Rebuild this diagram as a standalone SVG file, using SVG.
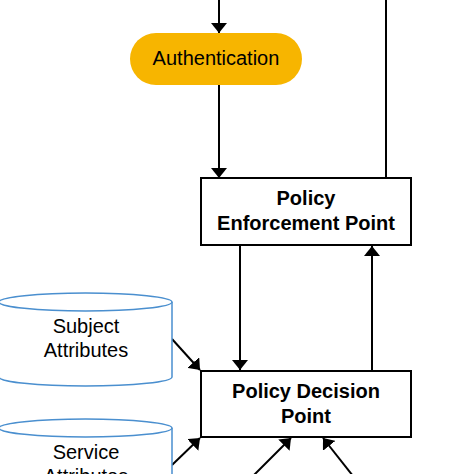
<svg xmlns="http://www.w3.org/2000/svg" width="474" height="474" viewBox="0 0 474 474">
<style>
.t{font-family:"Liberation Sans",Arial,sans-serif;font-size:20px;fill:#000;text-anchor:middle}
.b{font-weight:bold}
.box{fill:#fff;stroke:#000;stroke-width:2}
.cyl{fill:#fff;stroke:#4a8fcf;stroke-width:1.5}
.c{fill:none;stroke:#000;stroke-width:2}
</style>
<defs>
<marker id="ah" markerUnits="userSpaceOnUse" markerWidth="10" markerHeight="16" viewBox="0 0 10 16" refX="10" refY="8" orient="auto">
<path d="M0,0 L10,8 L0,16 z" fill="#000"/>
</marker>
</defs>
<rect width="474" height="474" fill="#fff"/>
<g id="connectors">
<line class="c" x1="219" y1="0" x2="219" y2="33" marker-end="url(#ah)"/>
<line class="c" x1="219" y1="85" x2="219" y2="178" marker-end="url(#ah)"/>
<line class="c" x1="386" y1="0" x2="386" y2="178"/>
<line class="c" x1="240" y1="245" x2="240" y2="370" marker-end="url(#ah)"/>
<line class="c" x1="372" y1="371" x2="372" y2="246" marker-end="url(#ah)"/>
<line class="c" x1="172" y1="339" x2="200" y2="370" marker-end="url(#ah)"/>
<line class="c" x1="172" y1="465" x2="200" y2="438" marker-end="url(#ah)"/>
<line class="c" x1="253" y1="476" x2="291" y2="438" marker-end="url(#ah)"/>
<line class="c" x1="353" y1="476" x2="323" y2="438" marker-end="url(#ah)"/>
</g>
<g id="authentication">
<rect x="130" y="33" width="172" height="52" rx="26" fill="#f7b500"/>
<text class="t" x="216" y="65">Authentication</text>
</g>
<g id="pep">
<rect class="box" x="201" y="178" width="210" height="67"/>
<text class="t b" x="306" y="205">Policy</text>
<text class="t b" x="306" y="230">Enforcement Point</text>
</g>
<g id="pdp">
<rect class="box" x="201" y="371" width="210" height="66"/>
<text class="t b" x="306" y="398">Policy Decision</text>
<text class="t b" x="306" y="423">Point</text>
</g>
<g id="subject-attributes">
<path class="cyl" d="M-1,302 L-1,377 A86.5,9 0 0 0 172,377 L172,302"/>
<ellipse class="cyl" cx="85.5" cy="302" rx="86.5" ry="9"/>
<text class="t" x="86" y="333">Subject</text>
<text class="t" x="86" y="357">Attributes</text>
</g>
<g id="service-attributes">
<path class="cyl" d="M-1,428 L-1,503 A86.5,9 0 0 0 172,503 L172,428"/>
<ellipse class="cyl" cx="85.5" cy="428" rx="86.5" ry="9"/>
<text class="t" x="86" y="459">Service</text>
<text class="t" x="86" y="483">Attributes</text>
</g>
</svg>
